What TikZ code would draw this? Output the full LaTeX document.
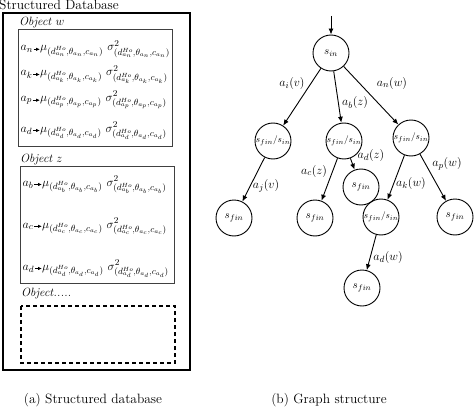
\documentclass[tikz,border=0pt]{standalone}
\usetikzlibrary{arrows.meta}
\newcommand\murow[1]{$\mu_{(d^{Ho}_{a_{#1}},\theta_{a_{#1}},c_{a_{#1}})}\ \sigma^2_{(d^{Ho}_{a_{#1}},\theta_{a_{#1}},c_{a_{#1}})}$}
\begin{document}
\begin{tikzpicture}[x=1pt,y=-1pt,
  st/.style={circle,draw,line width=0.9pt,minimum size=36pt,inner sep=0pt},
  arr/.style={-{Latex[length=6pt,width=5pt]},line width=0.9pt},
  sarr/.style={-{Latex[length=4pt,width=3.5pt]},line width=0.8pt},
  lbl/.style={font=\fontsize{13}{15}\selectfont,inner sep=0pt},
  captxt/.style={font=\fontsize{13.5}{16}\selectfont,inner sep=0pt,anchor=base},
  objlbl/.style={font=\fontsize{12}{14}\selectfont\itshape,inner sep=0pt,anchor=base west},
  rowa/.style={font=\fontsize{12.5}{14}\selectfont,inner sep=0.5pt,anchor=base west},
  rowm/.style={font=\fontsize{12.5}{14}\selectfont,inner sep=0pt,anchor=base west},
  objbox/.style={draw=black!75,line width=0.8pt},
  stin/.style={font=\fontsize{9.5}{10}\selectfont},
  stf/.style={font=\fontsize{11}{12}\selectfont}]
\useasboundingbox (0,0) rectangle (474,412);
% ---------- left panel ----------
\node[captxt,anchor=base west] (title) at (-1,10) {Structured Database};
\draw[line width=2.5pt] (3,13) rectangle (190,370);
\node[objlbl] (ow) at (19,26) {Object $w$};
\draw[objbox] (18,29) rectangle (172,146);
\foreach \s/\y in {n/51,k/76,p/101,d/132}{
  \node[rowa] (wa\s) at (20,\y) {$a_{\s}$};
  \node[rowm] (wm\s) at (40,\y) {\murow{\s}};
  \draw[sarr] (wa\s.east) -- (wm\s.west|-wa\s.east);
}
\node[objlbl] (oz) at (20,162) {Object $z$};
\draw[objbox] (20,166) rectangle (174,283);
\foreach \s/\y in {b/186,c/228,d/270}{
  \node[rowa] (za\s) at (22,\y) {$a_{\s}$};
  \node[rowm] (zm\s) at (42,\y) {\murow{\s}};
  \draw[sarr] (za\s.east) -- (zm\s.west|-za\s.east);
}
\node[objlbl] (oo) at (21,296) {Object.....};
\draw[dashed,line width=1.2pt,dash pattern=on 4pt off 3pt] (21,306) rectangle (175,363);
\node[captxt] (capa) at (93,403) {(a) Structured database};
% ---------- right panel ----------
\coordinate (start) at (331,16);
\node[st,stf] (sin) at (331,53) {$s_{in}$};
\node[st,stin] (l1) at (273,141) {$s_{fin}/s_{in}$};
\node[st,stin] (m1) at (344,141) {$s_{fin}/s_{in}$};
\node[st,stin] (r1) at (411,138) {$s_{fin}/s_{in}$};
\node[st,stf] (l2) at (234,218) {$s_{fin}$};
\node[st,stf] (m2) at (315,218) {$s_{fin}$};
\node[st,stf] (m3) at (361,187) {$s_{fin}$};
\node[st,stin] (r2) at (381,217) {$s_{fin}/s_{in}$};
\node[st,stf] (r3) at (455,217) {$s_{fin}$};
\node[st,stf] (r4) at (362,288) {$s_{fin}$};
\draw[arr] (start) -- (sin);
\draw[arr] (sin) -- (l1);
\draw[arr] (sin) -- (m1);
\draw[arr] (sin) -- (r1);
\draw[arr] (l1) -- (l2);
\draw[arr] (m1) -- (m2);
\draw[arr] (m1) -- (m3);
\draw[arr] (r1) -- (r2);
\draw[arr] (r1) -- (r3);
\draw[arr] (r2) -- (r4);
\node[lbl] (lai) at (292,84) {$a_i(v)$};
\node[lbl] (lab) at (355,103) {$a_b(z)$};
\node[lbl] (lan) at (392,83) {$a_n(w)$};
\node[lbl] (laj) at (266,186) {$a_j(v)$};
\node[lbl] (lac) at (314,171) {$a_c(z)$};
\node[lbl] (lad) at (371,155) {$a_d(z)$};
\node[lbl] (lak) at (411,183) {$a_k(w)$};
\node[lbl] (lap) at (447,164) {$a_p(w)$};
\node[lbl] (ladw) at (388,257) {$a_d(w)$};
\node[captxt] (capb) at (329,403) {(b) Graph structure};
\end{tikzpicture}
\end{document}
